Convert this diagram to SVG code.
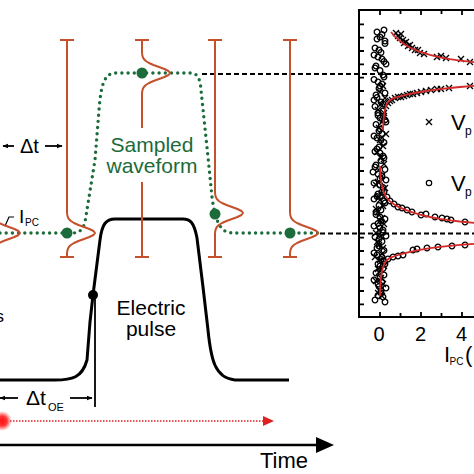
<svg xmlns="http://www.w3.org/2000/svg" width="474" height="474" viewBox="0 0 474 474">
<defs>
<style>
.t{font-family:"Liberation Sans",Arial,sans-serif;fill:#000}
.g{fill:#1b6b3b}
.bar{stroke:#c4512b;stroke-width:2;fill:none;stroke-linejoin:round}
.wf{stroke:#1b6b3b;stroke-width:3.4;fill:none;stroke-dasharray:0 6.2;stroke-linecap:round}
.dash{stroke:#000;stroke-width:2;stroke-dasharray:5 3;fill:none}
.fit{stroke:#d42a2a;stroke-width:1.8;fill:none;stroke-linejoin:round}
.ax{stroke:#000;stroke-width:1.8;fill:none}
</style>
<path id="gs" d="M0,-20 L0.3,-18 L0.8,-16 L1.85,-14 L3.8,-12 L7,-10 L11.5,-8 L17,-6 L22.4,-4 L26.5,-2 L28,0 L26.5,2 L22.4,4 L17,6 L11.5,8 L7,10 L3.8,12 L1.85,14 L0.8,16 L0.3,18 L0,20"/>
<circle id="o" r="2.8" fill="none" stroke="#000" stroke-width="1.3"/>
<path id="x" d="M-3,-3 L3,3 M-3,3 L3,-3" stroke="#000" stroke-width="1.35"/>
<marker id="ah" viewBox="0 0 10 10" refX="9" refY="5" markerWidth="6" markerHeight="6" orient="auto-start-reverse" markerUnits="userSpaceOnUse">
<path d="M0,1 L10,5 L0,9 Z" fill="#000"/>
</marker>
<radialGradient id="glow">
<stop offset="0" stop-color="#ff1010"/>
<stop offset="0.5" stop-color="#ff2020" stop-opacity="0.9"/>
<stop offset="1" stop-color="#ff4040" stop-opacity="0"/>
</radialGradient>
</defs>
<rect width="474" height="474" fill="#fff"/>

<g id="connectors">
<path class="dash" d="M202,74 H474"/>
<path class="dash" d="M320,233.5 H474"/>
<path class="wf" d="M0,233 H72 C80,233 83,229 85,222 L95,160 L99,110 C101,85 104,73 116,73 H190 C197,73 200,77 201,90 L208,157 L212,197 C214,212 217,226 225,231 C228,233 232,233 240,233 H318"/>
<path d="M0,380 H55 C72,380 82,378 87,360 L90,322 L93,295 L100,240 C102,224 106,219 115,219 H183 C190,219 194,222 197,238 L203,287 L208,330 C211,360 215,378 235,380 H289" stroke="#000" stroke-width="3" fill="none"/>
<line x1="95" y1="298" x2="95" y2="407" stroke="#000" stroke-width="1.8"/>
<line x1="3" y1="146" x2="14" y2="146" class="ax" marker-start="url(#ah)"/>
<line x1="45" y1="146" x2="62" y2="146" class="ax" marker-end="url(#ah)"/>
<line x1="0" y1="398" x2="18" y2="398" class="ax" marker-start="url(#ah)"/>
<line x1="70" y1="398" x2="92" y2="398" class="ax" marker-end="url(#ah)"/>
<line x1="10" y1="421" x2="264" y2="421" stroke="#e02020" stroke-width="1.5" stroke-dasharray="1.5 1.5"/>
<path d="M263,416 L274,421 L263,426 Z" fill="#e02020"/>
<line x1="0" y1="445" x2="320" y2="445" stroke="#000" stroke-width="2.5"/>
<path d="M316,437 L334,445 L316,453 Z" fill="#000"/>
<path d="M5,226 L9,217 H14" stroke="#000" stroke-width="1.2" fill="none"/>
</g>

<g id="bar0">
<use href="#gs" class="bar" transform="translate(-8,233)"/>
</g>
<g id="bar1">
<path class="bar" d="M60,40 H74 M67,40 V213 M67,253 V257 M60,257 H74"/>
<use href="#gs" class="bar" transform="translate(67,233)"/>
<circle cx="67" cy="233" r="5.5" class="g"/>
</g>
<g id="bar2">
<path class="bar" d="M135,40 H149 M142,40 V53 M142,93 V128 M142,182 V257 M135,257 H149"/>
<use href="#gs" class="bar" transform="translate(142,73)"/>
<circle cx="142" cy="73" r="5.5" class="g"/>
</g>
<g id="bar3">
<path class="bar" d="M208,40 H222 M215,40 V193 M215,233 V257 M208,257 H222"/>
<use href="#gs" class="bar" transform="translate(215,213)"/>
<circle cx="215" cy="214" r="5.5" class="g"/>
</g>
<g id="bar4">
<path class="bar" d="M283,40 H297 M290,40 V213 M290,253 V257 M283,257 H297"/>
<use href="#gs" class="bar" transform="translate(290,233)"/>
<circle cx="290" cy="233" r="5.5" class="g"/>
</g>

<g id="pulse-dot"><circle cx="93" cy="295" r="5" fill="#000"/></g>
<g id="laser"><circle cx="2" cy="421" r="10" fill="url(#glow)"/></g>

<g id="labels">
<text class="t" x="20" y="153" font-size="20">Δt</text>
<text class="t g" x="152" y="152" font-size="21" text-anchor="middle">Sampled</text>
<text class="t g" x="152" y="173" font-size="21" text-anchor="middle">waveform</text>
<text class="t" x="19" y="223" font-size="19">I</text>
<text class="t" x="25" y="226" font-size="10">PC</text>
<text class="t" x="-4.5" y="322" font-size="17" fill="#222">s</text>
<text class="t" x="151" y="315" font-size="21" text-anchor="middle">Electric</text>
<text class="t" x="151" y="336" font-size="21" text-anchor="middle">pulse</text>
<text class="t" x="26" y="405" font-size="21">Δt</text>
<text class="t" x="48" y="411" font-size="11">OE</text>
<text class="t" x="260" y="468" font-size="22">Time</text>
</g>

<g id="plot">
<rect x="359" y="10" width="200" height="307" fill="none" stroke="#000" stroke-width="2"/>
<path class="ax" stroke-width="1.5" d="M359,24.3h5 M359,37.6h5 M359,51h5 M359,64.3h5 M359,77.6h5 M359,91h5 M359,104.3h5 M359,117.6h5 M359,131h5 M359,144.3h5 M359,157.6h5 M359,171h5 M359,184.3h5 M359,197.6h5 M359,211h5 M359,224.3h5 M359,237.6h5 M359,251h5 M359,264.3h5 M359,277.6h5 M359,291h5 M359,304.3h5 M380,10v5 M400.5,10v4 M421,10v5 M441.5,10v4 M462,10v5 M380,317v-5 M400.5,317v-4 M421,317v-5 M441.5,317v-4 M462,317v-5"/>
<text class="t" x="379" y="341" font-size="20" text-anchor="middle">0</text>
<text class="t" x="420.5" y="341" font-size="20" text-anchor="middle">2</text>
<text class="t" x="461.5" y="341" font-size="20" text-anchor="middle">4</text>
<text class="t" x="444" y="362" font-size="22">I</text>
<text class="t" x="449.5" y="365" font-size="10">PC</text>
<text class="t" x="465" y="362" font-size="22">(</text>
<use href="#x" x="429" y="122" transform="scale(1)"/>
<text class="t" x="451" y="130" font-size="22">V</text>
<text class="t" x="465" y="135" font-size="12">p</text>
<circle cx="429" cy="183" r="2.7" fill="none" stroke="#000" stroke-width="1.2"/>
<text class="t" x="451" y="191" font-size="22">V</text>
<text class="t" x="465" y="196" font-size="12">p</text>

<g id="col-circles">
<use href="#o" x="384" y="30"/><use href="#o" x="382" y="34.5"/><use href="#o" x="377" y="39"/><use href="#o" x="385" y="43.5"/><use href="#o" x="375" y="48"/><use href="#o" x="381" y="52.5"/><use href="#o" x="378" y="57"/><use href="#o" x="384" y="61.5"/><use href="#o" x="376" y="66"/><use href="#o" x="380" y="70.5"/>
<use href="#o" x="383" y="75"/><use href="#o" x="374" y="79.5"/><use href="#o" x="382" y="84"/><use href="#o" x="379" y="88.5"/><use href="#o" x="385" y="93"/><use href="#o" x="377" y="97.5"/><use href="#o" x="381" y="102"/><use href="#o" x="375" y="106.5"/><use href="#o" x="383" y="111"/><use href="#o" x="378" y="115.5"/>
<use href="#o" x="385" y="120"/><use href="#o" x="376" y="124.5"/><use href="#o" x="380" y="129"/><use href="#o" x="382" y="133.5"/><use href="#o" x="377" y="138"/><use href="#o" x="384" y="142.5"/><use href="#o" x="379" y="147"/><use href="#o" x="375" y="151.5"/><use href="#o" x="383" y="156"/><use href="#o" x="381" y="160.5"/>
<use href="#o" x="376" y="165"/><use href="#o" x="385" y="169.5"/><use href="#o" x="378" y="174"/><use href="#o" x="380" y="178.5"/><use href="#o" x="374" y="183"/><use href="#o" x="383" y="187.5"/><use href="#o" x="382" y="192"/><use href="#o" x="377" y="196.5"/><use href="#o" x="384" y="201"/><use href="#o" x="379" y="205.5"/>
<use href="#o" x="381" y="210"/><use href="#o" x="376" y="214.5"/><use href="#o" x="385" y="219"/><use href="#o" x="378" y="223.5"/><use href="#o" x="380" y="228"/><use href="#o" x="383" y="232.5"/><use href="#o" x="375" y="237"/><use href="#o" x="382" y="241.5"/><use href="#o" x="379" y="246"/><use href="#o" x="384" y="250.5"/>
<use href="#o" x="377" y="255"/><use href="#o" x="381" y="259.5"/><use href="#o" x="378" y="264"/><use href="#o" x="383" y="268.5"/><use href="#o" x="376" y="273"/><use href="#o" x="380" y="277.5"/><use href="#o" x="382" y="282"/><use href="#o" x="379" y="286.5"/><use href="#o" x="381" y="291"/><use href="#o" x="378" y="295.5"/><use href="#o" x="383" y="297"/>
<use href="#o" x="377" y="32"/><use href="#o" x="385" y="41"/><use href="#o" x="379" y="50"/><use href="#o" x="382" y="59"/><use href="#o" x="375" y="68"/><use href="#o" x="384" y="77"/><use href="#o" x="380" y="86"/><use href="#o" x="376" y="95"/><use href="#o" x="383" y="104"/><use href="#o" x="378" y="113"/>
<use href="#o" x="386" y="122"/><use href="#o" x="379" y="131"/><use href="#o" x="381" y="140"/><use href="#o" x="377" y="149"/><use href="#o" x="384" y="158"/><use href="#o" x="375" y="167"/><use href="#o" x="382" y="176"/><use href="#o" x="380" y="185"/><use href="#o" x="378" y="194"/><use href="#o" x="385" y="203"/>
<use href="#o" x="376" y="212"/><use href="#o" x="381" y="221"/><use href="#o" x="383" y="230"/><use href="#o" x="379" y="239"/><use href="#o" x="377" y="248"/><use href="#o" x="382" y="257"/><use href="#o" x="380" y="266"/><use href="#o" x="384" y="275"/><use href="#o" x="378" y="284"/><use href="#o" x="381" y="293"/>
<use href="#o" x="380" y="37"/><use href="#o" x="374" y="55"/><use href="#o" x="386" y="64"/><use href="#o" x="378" y="82"/><use href="#o" x="374" y="100"/><use href="#o" x="380" y="118"/><use href="#o" x="374" y="136"/><use href="#o" x="380" y="153"/><use href="#o" x="373" y="172"/><use href="#o" x="386" y="180"/>
<use href="#o" x="374" y="199"/><use href="#o" x="380" y="217"/><use href="#o" x="374" y="226"/><use href="#o" x="386" y="236"/><use href="#o" x="374" y="253"/><use href="#o" x="384" y="261"/><use href="#o" x="374" y="280"/><use href="#o" x="386" y="288"/><use href="#o" x="375" y="300"/><use href="#o" x="385" y="302"/>
</g>
<g id="col-crosses">
<use href="#x" x="383" y="86"/><use href="#x" x="380" y="92"/><use href="#x" x="385" y="98"/><use href="#x" x="381" y="104"/><use href="#x" x="378" y="110"/><use href="#x" x="384" y="116"/><use href="#x" x="382" y="122"/><use href="#x" x="379" y="128"/><use href="#x" x="386" y="134"/><use href="#x" x="380" y="140"/>
<use href="#x" x="383" y="146"/><use href="#x" x="377" y="152"/><use href="#x" x="381" y="158"/><use href="#x" x="384" y="164"/><use href="#x" x="379" y="170"/><use href="#x" x="382" y="176"/><use href="#x" x="378" y="182"/><use href="#x" x="385" y="188"/><use href="#x" x="381" y="194"/><use href="#x" x="380" y="200"/>
<use href="#x" x="383" y="206"/><use href="#x" x="378" y="212"/><use href="#x" x="382" y="218"/><use href="#x" x="384" y="224"/><use href="#x" x="379" y="230"/><use href="#x" x="381" y="236"/><use href="#x" x="377" y="242"/><use href="#x" x="383" y="248"/><use href="#x" x="382" y="254"/><use href="#x" x="380" y="260"/>
<use href="#x" x="384" y="266"/><use href="#x" x="379" y="272"/><use href="#x" x="381" y="278"/><use href="#x" x="383" y="284"/><use href="#x" x="380" y="290"/><use href="#x" x="382" y="296"/>
<use href="#x" x="376" y="185"/><use href="#x" x="379" y="197"/><use href="#x" x="376" y="209"/><use href="#x" x="380" y="221"/><use href="#x" x="376" y="233"/><use href="#x" x="379" y="245"/><use href="#x" x="375" y="257"/><use href="#x" x="378" y="269"/><use href="#x" x="376" y="281"/><use href="#x" x="378" y="293"/>
</g>
<g id="branch-crosses">
<use href="#x" x="396" y="33"/><use href="#x" x="398" y="36"/><use href="#x" x="400" y="38"/><use href="#x" x="401" y="34"/><use href="#x" x="403" y="40"/><use href="#x" x="404" y="43"/><use href="#x" x="406" y="42"/><use href="#x" x="408" y="46"/><use href="#x" x="410" y="45"/><use href="#x" x="412" y="48"/>
<use href="#x" x="415" y="50"/><use href="#x" x="418" y="50"/><use href="#x" x="420" y="53"/><use href="#x" x="424" y="54"/><use href="#x" x="437" y="57"/><use href="#x" x="441" y="56"/><use href="#x" x="446" y="58"/><use href="#x" x="461" y="59"/><use href="#x" x="470" y="62"/>
<use href="#x" x="383" y="120"/><use href="#x" x="384" y="113"/><use href="#x" x="386" y="106"/><use href="#x" x="388" y="103"/><use href="#x" x="390" y="101"/><use href="#x" x="392" y="100"/><use href="#x" x="395" y="98"/><use href="#x" x="398" y="97"/><use href="#x" x="401" y="97"/><use href="#x" x="404" y="96"/>
<use href="#x" x="407" y="95"/><use href="#x" x="410" y="94"/><use href="#x" x="413" y="94"/><use href="#x" x="417" y="93"/><use href="#x" x="421" y="92"/><use href="#x" x="426" y="91"/><use href="#x" x="431" y="90"/><use href="#x" x="437" y="89"/><use href="#x" x="441" y="89"/><use href="#x" x="449" y="88"/><use href="#x" x="470" y="86"/>
</g>
<g id="branch-circles">
<use href="#o" x="384" y="192"/><use href="#o" x="387" y="197"/><use href="#o" x="390" y="201"/><use href="#o" x="394" y="204"/><use href="#o" x="398" y="207"/><use href="#o" x="402" y="208"/><use href="#o" x="407" y="210"/><use href="#o" x="412" y="212"/><use href="#o" x="421" y="215"/><use href="#o" x="426" y="214"/>
<use href="#o" x="435" y="217"/><use href="#o" x="442" y="218"/><use href="#o" x="447" y="219"/><use href="#o" x="451" y="220"/><use href="#o" x="465" y="222"/>
<use href="#o" x="385" y="264"/><use href="#o" x="388" y="259"/><use href="#o" x="393" y="257"/><use href="#o" x="398" y="256"/><use href="#o" x="403" y="255"/><use href="#o" x="413" y="250"/><use href="#o" x="417" y="249"/><use href="#o" x="427" y="248"/><use href="#o" x="438" y="247"/><use href="#o" x="452" y="246"/><use href="#o" x="465" y="245"/>
</g>
<g id="fits">
<path class="fit" d="M391,32 L395,36.6 L400,41.1 L405,44.7 L410,47.5 L420,51.8 L430,54.9 L440,57.3 L450,59.1 L460,60.6 L474,62.2"/>
<path class="fit" d="M383,130 C383.5,115 385,106 388,102 L392,98.8 L395,97.7 L400,96.3 L410,93.9 L420,92 L430,90.4 L440,89.1 L450,88 L460,87 L474,85.8"/>
<path class="fit" d="M380,166 C380,180 382,190 386,197 L390,201.5 L395,204.9 L400,207.6 L410,211.7 L420,214.7 L430,217 L440,218.8 L450,220.3 L460,221.5 L474,222.8"/>
<path class="fit" d="M380,296 C380,280 381,268 386,261 L390,257.8 L395,256 L400,254.4 L410,251.8 L420,249.8 L430,248.2 L440,246.9 L450,245.8 L460,244.9 L474,243.9"/>
</g>
</g>
</svg>
